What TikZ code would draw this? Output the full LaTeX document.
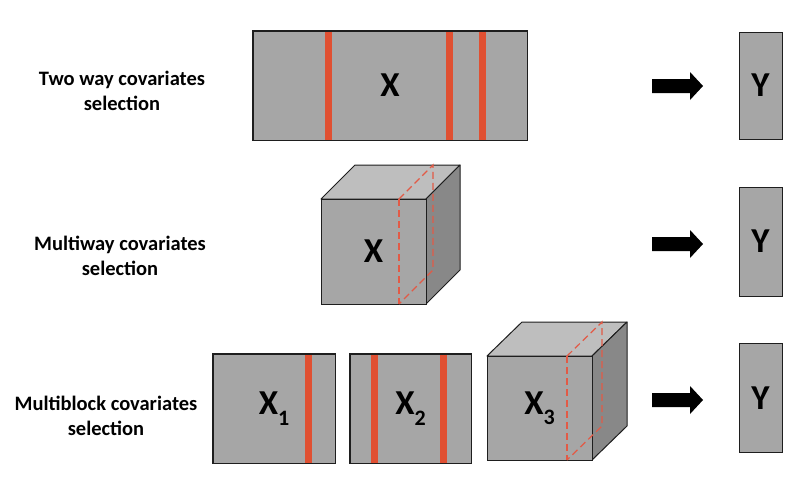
\documentclass[tikz,border=0pt]{standalone}
\usepackage{fontspec}
\setmainfont{Carlito}
\definecolor{frontgray}{RGB}{166,166,166}
\definecolor{topgray}{RGB}{190,190,190}
\definecolor{sidegray}{RGB}{136,136,136}
\definecolor{stripered}{RGB}{224,80,50}
\definecolor{slicered}{RGB}{226,90,70}
\definecolor{edge}{RGB}{30,30,30}
\tikzset{
  box/.style={draw=edge, line width=1pt, fill=frontgray, inner sep=0pt,
    font=\fontsize{35}{35}\selectfont\bfseries},
  topface/.style={draw=edge, line width=1pt, fill=topgray, line join=round},
  sideface/.style={draw=edge, line width=1pt, fill=sidegray, line join=round},
  stripe/.style={fill=stripered},
  slice/.style={draw=slicered, line width=1.2pt, dash pattern=on 7pt off 4pt},
  rowlabel/.style={align=center, font=\fontsize{20.5}{24.5}\selectfont\bfseries, inner sep=0pt},
  blockarrow/.style={fill=black},
}
\newcommand{\subidx}[1]{\raisebox{-0.3em}{\fontsize{22}{22}\selectfont #1}}
\begin{document}
\begin{tikzpicture}[x=1pt,y=-1pt]
\useasboundingbox (0,0) rectangle (800,488);

% ---- row labels
\node[rowlabel] (l1) at (122,91) {Two way covariates\\selection};
\node[rowlabel] (l2) at (120,256) {Multiway covariates\\selection};
\node[rowlabel] (l3) at (106,416) {Multiblock covariates\\selection};

% ---- row 1: two-way matrix
\node[box, minimum width=274, minimum height=109] (X) at (390,85.5) {X};
\fill[stripe] (324.5,31.5) rectangle (331.5,139.5);
\fill[stripe] (445.5,31.5) rectangle (452.5,139.5);
\fill[stripe] (479,31.5) rectangle (486,139.5);
\draw[draw=edge, line width=1pt] (X.north west) rectangle (X.south east);

% ---- row 2: cube
\draw[topface] (321,199) -- (355,165) -- (460,165) -- (426,199) -- cycle;
\draw[sideface] (426,199) -- (460,165) -- (460,270) -- (426,304) -- cycle;
\node[box, minimum width=105, minimum height=105] (Xc) at (373.5,251.5) {X};
\draw[slice] (399,199) -- (399,304);
\draw[slice] (399,199) -- (433,165) -- (433,270) -- (399,304);

% ---- row 3: blocks
\node[box, minimum width=122, minimum height=109] (X1) at (274,408.5) {X\subidx{1}};
\fill[stripe] (304.5,354.5) rectangle (311.5,462.5);
\draw[draw=edge, line width=1pt] (X1.north west) rectangle (X1.south east);

\node[box, minimum width=121, minimum height=109] (X2) at (410.5,408.5) {X\subidx{2}};
\fill[stripe] (370.5,354.5) rectangle (377.5,462.5);
\fill[stripe] (439.5,354.5) rectangle (446.5,462.5);
\draw[draw=edge, line width=1pt] (X2.north west) rectangle (X2.south east);

\draw[topface] (487,356) -- (522,322) -- (627,322) -- (592,356) -- cycle;
\draw[sideface] (592,356) -- (627,322) -- (627,426) -- (592,460) -- cycle;
\node[box, minimum width=105, minimum height=104] (X3) at (539.5,408) {X\subidx{3}};
\draw[slice] (567,356) -- (567,460);
\draw[slice] (567,356) -- (602,322) -- (602,426) -- (567,460);

% ---- responses
\node[box, minimum width=43, minimum height=107] (Y1) at (760.5,85.5) {Y};
\node[box, minimum width=43, minimum height=109] (Y2) at (760.5,241.5) {Y};
\node[box, minimum width=43, minimum height=109] (Y3) at (760.5,398) {Y};

% ---- block arrows
\fill[blockarrow] (652,79) -- (690,79) -- (690,72) -- (703,86) -- (690,100) -- (690,93) -- (652,93) -- cycle;
\fill[blockarrow] (652,237) -- (690,237) -- (690,230) -- (703,244) -- (690,258) -- (690,251) -- (652,251) -- cycle;
\fill[blockarrow] (652,393) -- (690,393) -- (690,386) -- (703,400) -- (690,414) -- (690,407) -- (652,407) -- cycle;
\end{tikzpicture}
\end{document}
